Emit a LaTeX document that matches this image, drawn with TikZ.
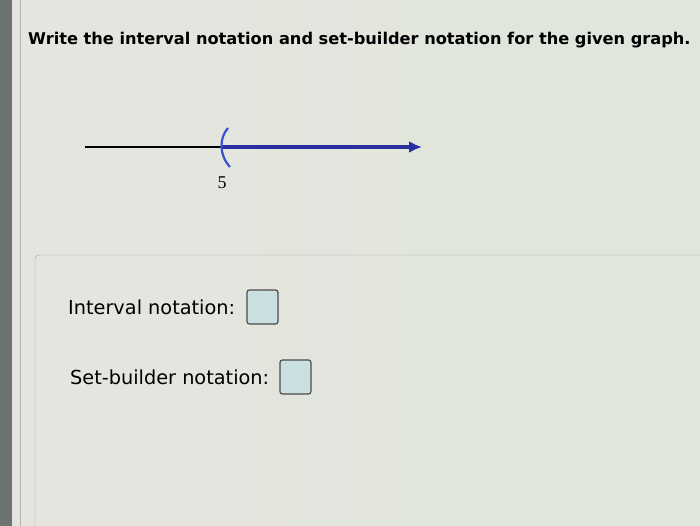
\documentclass[tikz,border=0pt]{standalone}
\usepackage{fontspec}
\setmainfont{DejaVu Sans}
\newfontfamily\numfont{Liberation Serif}
\usetikzlibrary{positioning,arrows.meta,calc}
\definecolor{screen}{RGB}{229,229,223}
\definecolor{screengreen}{RGB}{223,230,219}
\definecolor{bezel}{RGB}{108,116,114}
\definecolor{rayblue}{RGB}{40,48,160}
\definecolor{parenblue}{RGB}{60,80,210}
\definecolor{ansfill}{RGB}{202,224,224}
\begin{document}
\begin{tikzpicture}[x=1pt,y=-1pt,
    prompt/.style={anchor=west,font=\fontsize{19.3}{22}\selectfont,inner sep=0pt},
    ansbox/.style={draw=black!70,fill=ansfill,rounded corners=2.5pt,line width=1.2pt,
      minimum width=31pt,minimum height=34pt,inner sep=0pt}]
  \useasboundingbox (0,0) rectangle (700,526);
  \shade[left color=screen,right color=screengreen] (0,0) rectangle (700,526);
  \fill[bezel] (0,0) rectangle (12,526);
  \draw[black!30] (20,0) -- (20,526);
  \draw[black!40,rounded corners=4pt] (35,540) |- (720,255);
  \node[anchor=west,font=\bfseries\fontsize{16.2}{19}\selectfont,inner sep=0pt] (title) at (28,40)
    {Write the interval notation and set-builder notation for the given graph.};
  \coordinate (left) at (85,147);
  \coordinate (five) at (222,147);
  \coordinate (right) at (422,147);
  \draw[line width=2pt] (left) -- (five);
  \draw[rayblue,line width=3.6pt,-{Latex[length=13pt,width=12pt]}] (five) -- (right);
  \draw[parenblue,line width=2.2pt] ($(five)+(6,-19)$) .. controls ($(five)+(-3,-9)$) and ($(five)+(-3,8)$) .. ($(five)+(8,20)$);
  \node[font=\numfont\fontsize{18}{20}\selectfont,below=30pt of five,inner sep=0pt] (fivelabel) {5};
  \node[prompt] (interval) at (68,307) {Interval notation:};
  \node[ansbox,right=11pt of interval] (intervalbox) {};
  \node[prompt] (setbuilder) at (70,377) {Set-builder notation:};
  \node[ansbox,right=10pt of setbuilder] (setbox) {};
\end{tikzpicture}
\end{document}
